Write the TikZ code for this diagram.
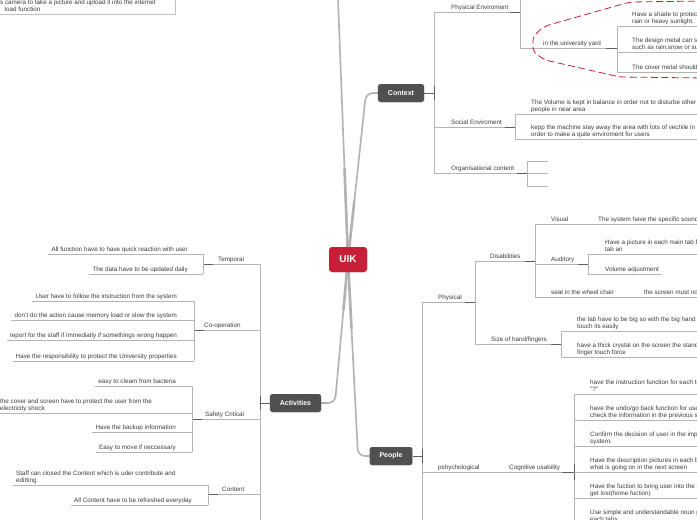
\documentclass[tikz,border=0pt]{standalone}
\usepackage{fontspec}
\setmainfont{Liberation Sans}
\usetikzlibrary{backgrounds,shadows,calc}
\definecolor{uikred}{RGB}{200,30,55}
\definecolor{topicgray}{RGB}{80,80,80}
\definecolor{linegray}{RGB}{180,180,180}
\definecolor{darkline}{RGB}{95,95,95}
\definecolor{txtcol}{RGB}{60,60,60}
\definecolor{connc}{RGB}{178,178,178}
\definecolor{dashred}{RGB}{200,30,55}
\tikzset{
  topic/.style={fill=topicgray, text=white, rounded corners=2.5pt, minimum height=18pt,
    inner xsep=10pt, inner ysep=0pt, font=\bfseries\fontsize{7}{8}\selectfont,
    drop shadow={opacity=0.2,shadow xshift=0.6pt,shadow yshift=-0.8pt}},
  root/.style={fill=uikred, text=white, rounded corners=3pt, minimum width=38pt,
    minimum height=25pt, inner sep=0pt, font=\bfseries\fontsize{10}{11}\selectfont,
    drop shadow={opacity=0.2,shadow xshift=0.6pt,shadow yshift=-0.8pt}},
  txt/.style={text=txtcol, font=\fontsize{6.3}{6.6}\selectfont, inner xsep=3pt, inner ysep=0pt, align=left},
  rt/.style={txt, anchor=base west},
  lt/.style={txt, anchor=base east},
  ln/.style={draw=linegray, line width=0.75pt},
  dk/.style={draw=darkline, line width=0.9pt},
  conn/.style={draw=connc, line width=1.6pt, line cap=round},
  connthick/.style={draw=connc, line width=2.6pt, line cap=round},
  cloudline/.style={draw=dashred, line width=0.8pt, dash pattern=on 7pt off 3.5pt}
}
\begin{document}
\begin{tikzpicture}[x=1pt,y=-1pt]
\useasboundingbox (0,0) rectangle (697,520);
\clip (0,0) rectangle (697,520);

% main topics
\node[root] (uik) at (348,259.5) {UIK};
\node[topic] (ctx) at (401,93) {Context};
\node[topic] (act) at (295.5,403) {Activities};
\node[topic] (ppl) at (391,456) {People};

\begin{pgfonlayer}{background}
\fill[white] (0,0) rectangle (697,520);
\coordinate (topend) at (338,-1);
\coordinate (ctxbend) at (366,93);
\coordinate (actbend) at (335,403);
\coordinate (pplbend) at (358,456);
\draw[conn] (uik.center) -- (topend);
\draw[conn,rounded corners=7pt] (uik.center) -- (ctxbend) -- (ctx.west);
\draw[conn,rounded corners=7pt] (uik.center) -- (actbend) -- (act.east);
\draw[conn,rounded corners=7pt] (uik.center) -- (pplbend) -- (ppl.west);
\draw[connthick] (uik.center) -- ($(uik.center)!0.35!(topend)$);
\draw[connthick] (uik.center) -- ($(uik.center)!0.35!(ctxbend)$);
\draw[connthick] (uik.center) -- ($(uik.center)!0.35!(actbend)$);
\draw[connthick] (uik.center) -- ($(uik.center)!0.35!(pplbend)$);
\end{pgfonlayer}

% top-left box
\draw[draw=gray!50, fill=white] (-10,-10) rectangle (175,14);
\node[rt] (cam) at (-3,11.5) {s camera to take a picture and upload it into the internet\\\hspace*{4.5pt}load function};

% ================= Context =================
\draw[dk] (ctx.east) -- (434,93);
\draw[ln] (434,12) -- (434,173);
\draw[dk] (434,86) -- (434,100);
% Physical Enviroment
\draw[ln] (434,12) -- (520,12); \draw[dk] (510,12) -- (520,12);
\node[rt] (penv) at (448,9) {Physical Enviroment};
\draw[ln] (520,-2) -- (520,48);
\draw[ln] (520,48) -- (617,48); \draw[dk] (606,48) -- (617,48);
\node[rt] (yard) at (540,45) {in the university yard};
\draw[ln] (617,26) -- (617,72);
\draw[ln] (617,26) -- (700,26);
\draw[ln] (617,52) -- (700,52);
\draw[ln] (617,72) -- (700,72);
\node[rt] (shade) at (629,23) {Have a shade to protect the\\rain or heavy sunlight.};
\node[rt] (metal) at (629,49) {The design metal can stand\\such as rain,snow or sun};
\node[rt] (cover) at (629,69) {The cover metal should be};
\draw[cloudline, rounded corners=5pt] (705,1) -- (630,2) -- (545,26) -- (533,36) -- (533,52) -- (545,60) -- (620,77) -- (705,78);
% Social Enviroment
\draw[ln] (434,127) -- (515,127); \draw[dk] (505,127) -- (515,127);
\node[rt] (soc) at (448,124) {Social Enviroment};
\draw[ln] (515,114) -- (515,139);
\draw[ln] (515,114) -- (700,114);
\draw[ln] (515,139) -- (700,139);
\node[rt] (vol) at (528,111) {The Volume is kept in balance in order not to disturbe other\\people in near area};
\node[rt] (kepp) at (528,136) {kepp the machine stay away the area with lots of vechile in\\order to make a quite enviroment for users};
% Organisational content
\draw[ln] (434,173) -- (527,173); \draw[dk] (517,173) -- (527,173);
\node[rt] (org) at (448,170) {Organisational content};
\draw[ln] (527,161) -- (527,186);
\draw[ln] (527,161) -- (548,161);
\draw[ln] (527,173) -- (548,173);
\draw[ln] (527,186) -- (548,186);

% ================= People =================
\draw[dk] (ppl.east) -- (422,456);
\draw[ln] (422,302) -- (422,525);
\draw[dk] (422,449) -- (422,463);
% Physical
\draw[ln] (422,302) -- (475,302); \draw[dk] (465,302) -- (475,302);
\node[rt] (phys) at (435,299) {Physical};
\draw[ln] (475,261) -- (475,344);
% Disabilities
\draw[ln] (475,261) -- (535,261); \draw[dk] (525,261) -- (535,261);
\node[rt] (dis) at (487,258) {Disabilities};
\draw[ln] (535,224) -- (535,297);
\draw[ln] (535,224) -- (700,224);
\node[rt] (vis) at (548,221) {Visual};
\node[rt] (snd) at (595,221) {The system have the specific sound for};
\draw[ln] (535,264) -- (588,264); \draw[dk] (578,264) -- (588,264);
\node[rt] (aud) at (548,261) {Auditory};
\draw[ln] (588,254) -- (588,274);
\draw[ln] (588,254) -- (700,254);
\node[rt] (pic) at (602,251) {Have a picture in each main tab for\\tab an};
\node[rt] (vadj) at (602,271) {Volume adjustment};
\draw[ln] (588,274) -- (vadj.east |- 0,274);
\draw[ln] (535,297) -- (700,297);
\node[rt] (seat) at (548,294) {seat in the wheel chair};
\node[rt] (scr) at (641,294) {the screen must not};
% Size of hand/fingers
\draw[ln] (475,344) -- (561,344); \draw[dk] (551,344) -- (561,344);
\node[rt] (size) at (488,341) {Size of hand/fingers};
\draw[ln] (561,331) -- (561,357);
\draw[ln] (561,331) -- (700,331);
\draw[ln] (561,357) -- (700,357);
\node[rt] (big) at (574,328) {the tab have to be big so with the big hand\\touch its easily};
\node[rt] (thick) at (574,354) {have a thick crystal on the screen the stand\\finger touch force};
% pshychological
\draw[ln] (422,472) -- (574,472); \draw[dk] (562,472) -- (574,472);
\node[rt] (psy) at (435,469) {pshychological};
\node[rt] (cog) at (506,469) {Cognitive usability};
\draw[ln] (574,394) -- (574,525);
\draw[dk] (574,464) -- (574,480);
\foreach \yy in {394,420,446,472,498,524} {\draw[ln] (574,\yy) -- (700,\yy);}
\node[rt] (c1) at (587,391) {have the instruction function for each tab\\"?"};
\node[rt] (c2) at (587,417) {have the undo/go back function for user to\\check the information in the previous screen};
\node[rt] (c3) at (587,443) {Confirm the decision of user in the important\\system.};
\node[rt] (c4) at (587,469) {Have the description pictures in each button\\what is going on in the next screen};
\node[rt] (c5) at (587,495) {Have the fuction to bring user into the main\\get lost(home fuction)};
\node[rt] (c6) at (587,521) {Use simple and understandable noun phrase\\each tabs};

% ================= Activities =================
\draw[dk] (act.west) -- (260,403);
\draw[ln] (260,264) -- (260,525);
\draw[dk] (260,396) -- (260,410);
% Temporal
\draw[ln] (260,264) -- (203,264); \draw[dk] (203,264) -- (213,264);
\node[rt] (temp) at (215,261) {Temporal};
\draw[ln] (203,254) -- (203,274);
\node[lt] (quick) at (191,251) {All function have to have quick reaction with user};
\draw[ln] (203,254) -- (quick.west |- 0,254);
\node[lt] (daily) at (191,271) {The data have to be updated daily};
\draw[ln] (203,274) -- (daily.west |- 0,274);
% Co-operation
\draw[ln] (260,330) -- (194,330); \draw[dk] (194,330) -- (204,330);
\node[rt] (coop) at (201,327) {Co-operation};
\draw[ln] (194,301) -- (194,361);
\node[lt] (follow) at (180,298) {User have to follow the instruction from the system};
\draw[ln] (194,301) -- (follow.west |- 0,301);
\node[lt] (mem) at (180,317) {don't do the action cause memory load or slow the system};
\draw[ln] (194,320) -- (mem.west |- 0,320);
\node[lt] (rep) at (180,337) {report for the staff if immediatly if somethings wrong happen};
\draw[ln] (194,340) -- (rep.west |- 0,340);
\node[lt] (resp) at (180,358) {Have the responsibility to protect the University properties};
\draw[ln] (194,361) -- (resp.west |- 0,361);
% Safety Critical
\draw[ln] (260,419) -- (192,419); \draw[dk] (192,419) -- (202,419);
\node[rt] (safe) at (202,416) {Safety Critical};
\draw[ln] (192,386) -- (192,452);
\node[lt] (clean) at (179,383) {easy to cleam from bacteria};
\draw[ln] (192,386) -- (clean.west |- 0,386);
\node[rt] (shock) at (-3,410) {the cover and screen have to protect the user from the\\electricity shock};
\draw[ln] (192,413) -- (shock.west |- 0,413);
\node[lt] (backup) at (179,429) {Have the backup information};
\draw[ln] (192,432) -- (backup.west |- 0,432);
\node[lt] (move) at (179,449) {Easy to move if neccessary};
\draw[ln] (192,452) -- (move.west |- 0,452);
% Content
\draw[ln] (260,494) -- (208,494); \draw[dk] (208,494) -- (218,494);
\node[rt] (cont) at (219,491) {Content};
\draw[ln] (208,485) -- (208,505);
\node[rt] (staff) at (13,482) {Staff can closed the Content which is uder contribute and\\editting};
\draw[ln] (208,485) -- (staff.west |- 0,485);
\node[lt] (refresh) at (195,502) {All Content have to be refreshed everyday};
\draw[ln] (208,505) -- (refresh.west |- 0,505);
\end{tikzpicture}
\end{document}
